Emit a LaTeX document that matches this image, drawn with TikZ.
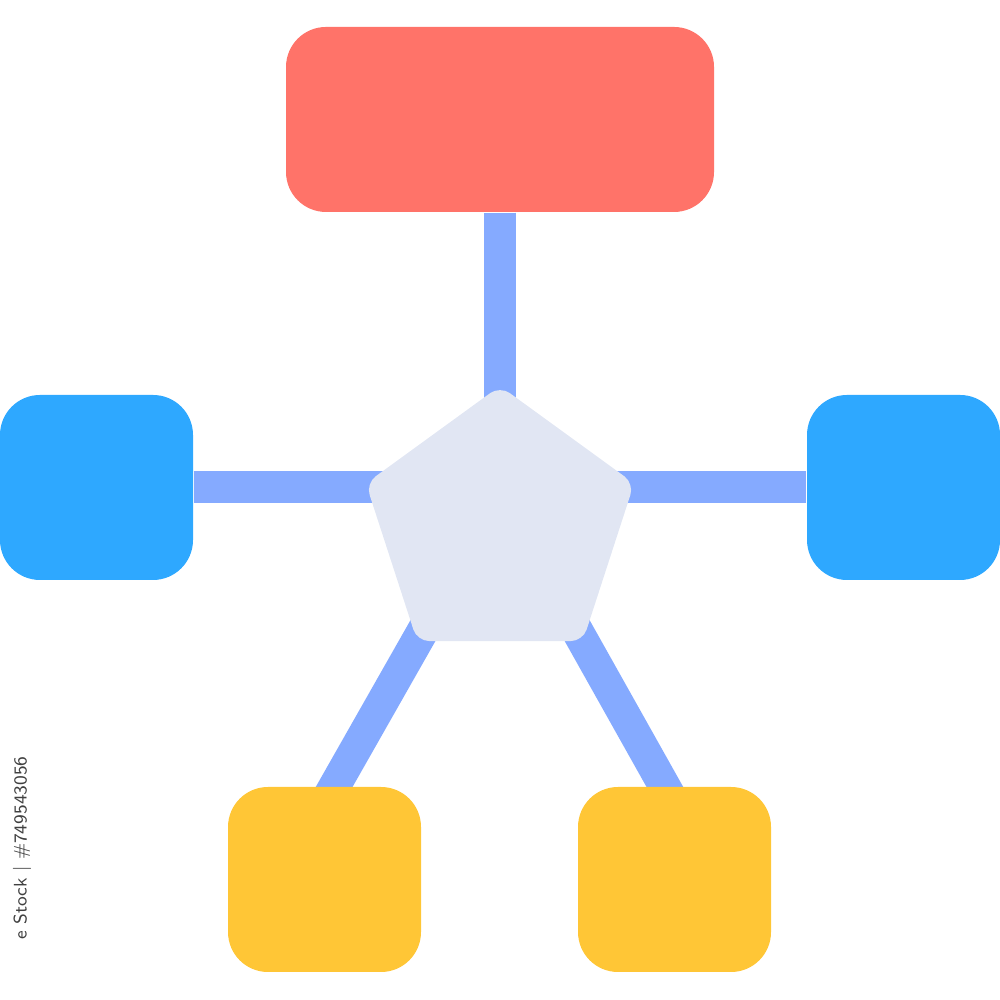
\documentclass[tikz,border=0pt]{standalone}
\usepackage{tikz}
\usetikzlibrary{positioning}
\usetikzlibrary{shapes.geometric}
\usetikzlibrary{calc}
\pgfdeclarelayer{linkbg}
\pgfsetlayers{linkbg,main}
\definecolor{headred}{HTML}{FF7369}
\definecolor{sideblue}{HTML}{2EA8FF}
\definecolor{footyel}{HTML}{FFC636}
\definecolor{linkblue}{HTML}{85AAFF}
\definecolor{hubgrey}{HTML}{E1E6F3}
\tikzset{
	tile/.style={rectangle, rounded corners=0.4cm, minimum width=1.93cm, minimum height=1.85cm, inner sep=0pt},
	link/.style={draw=linkblue, line width=0.32cm}
}

\begin{document}
\begin{tikzpicture}
		\useasboundingbox (0,0) rectangle (10,10);
		\node [tile, fill=headred, minimum width=4.28cm] at (5,8.805) (headr) {};
		\node [tile, fill=sideblue] at (0.965,5.125) (leftbl) {};
		\node [tile, fill=sideblue] at (9.035,5.125) (rightbl) {};
		\node [tile, fill=footyel] at (3.245,1.205) (leftyel) {};
		\node [tile, fill=footyel] at (6.745,1.205) (rightyel) {};
		\node [regular polygon, regular polygon sides=5, minimum size=2.82cm, inner sep=0pt, rounded corners=0.12cm, fill=hubgrey] at (5,4.73) (centr) {};
		\node [rotate=90, text=black!75, font=\fontsize{5.2}{6}\selectfont\sffamily] at (0.22,1.52) (stockid) {e Stock | \#749543056};
		\coordinate (lftend) at ($(leftyel.north)+(0.1,0)$);
		\coordinate (rgtend) at ($(rightyel.north)+(-0.1,0)$);
		\begin{pgfonlayer}{linkbg}
		\draw [link] (headr) -- (centr.center);
		\draw [link] (leftbl) -- (rightbl);
		\draw [link, shorten <=-0.3cm, shorten >=-0.2cm] (centr.corner 3) -- (lftend);
		\draw [link, shorten <=-0.3cm, shorten >=-0.2cm] (centr.corner 4) -- (rgtend);
		\end{pgfonlayer}
		\end{tikzpicture}
\end{document}
